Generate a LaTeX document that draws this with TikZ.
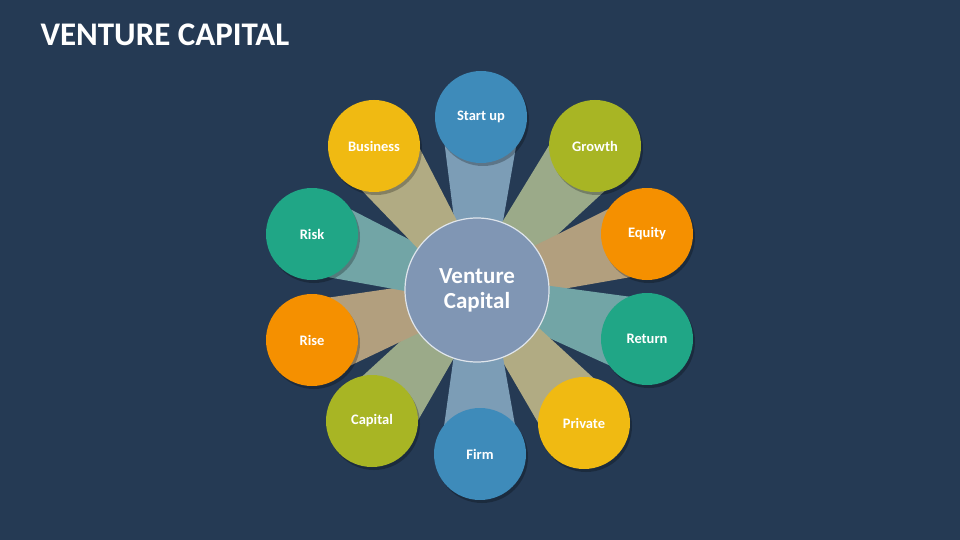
\documentclass[tikz,border=0pt]{standalone}
\usepackage{fontspec}
\setmainfont{Carlito}
\usetikzlibrary{calc}
\definecolor{bg}{RGB}{37,58,84}
\definecolor{cblue}{RGB}{62,139,186}
\definecolor{cgreen}{RGB}{168,181,36}
\definecolor{corange}{RGB}{245,144,0}
\definecolor{cteal}{RGB}{32,166,134}
\definecolor{cyellow}{RGB}{240,186,18}
\definecolor{cmid}{RGB}{128,150,180}
\definecolor{raygrey}{RGB}{150,165,180}
\begin{document}
\begin{tikzpicture}[x=1pt,y=-1pt,
  outer/.style={circle,minimum size=92pt,inner sep=0pt,text=white,font=\bfseries\fontsize{14.5}{16}\selectfont},
  centre/.style={circle,minimum size=144pt,inner sep=0pt,fill=cmid,draw=white!75!cmid,line width=1.2pt,text=white,align=center,font=\bfseries\fontsize{23}{27}\selectfont}]
\fill[bg] (0,0) rectangle (960,540);
\node[anchor=west,text=white,font=\bfseries\fontsize{33}{36}\selectfont] (title) at (37,35) {VENTURE CAPITAL};
\coordinate (c) at (477,290);
\foreach \n/\x/\y/\col in {s/481/117/cblue, g/595/146/cgreen, e/647/234/corange, r/647/339/cteal, p/584/423/cyellow, f/480/454/cblue, ca/372/421/cgreen, ri/312/340/corange, rk/312/234/cteal, b/374/146/cyellow}{
  \coordinate (\n) at (\x,\y);
  \fill[\col!30!raygrey]
    ($(c)!14pt!90:(\n)$) -- ($(\n)!40pt!-90:(c)$) -- ($(\n)!40pt!90:(c)$) -- ($(c)!14pt!-90:(\n)$) -- cycle;
}
\node[centre] (mid) at (c) {Venture\\[-2pt]Capital};
\foreach \n/\col/\t in {s/cblue/Start up, g/cgreen/Growth, e/corange/Equity, r/cteal/Return, p/cyellow/Private, f/cblue/Firm, ca/cgreen/Capital, ri/corange/Rise, rk/cteal/Risk, b/cyellow/Business}{
  \fill[black,opacity=0.25] ($(\n)+(2,3)$) circle (46);
  \node[outer,fill=\col] (n\n) at (\n) {\t};
}
\end{tikzpicture}
\end{document}
